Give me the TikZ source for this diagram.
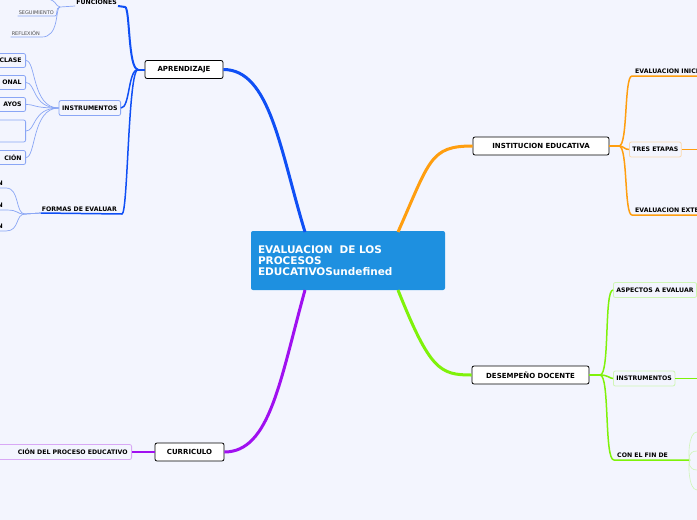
\documentclass[tikz,border=0pt]{standalone}
\usepackage{fontspec}
\setmainfont{DejaVu Sans}
\definecolor{bg}{HTML}{F3F5FE}
\definecolor{cblue}{HTML}{1E90E0}
\definecolor{lb}{HTML}{0F4FF5}
\definecolor{lbl}{HTML}{8AA6F5}
\definecolor{lor}{HTML}{FF9E0F}
\definecolor{lorl}{HTML}{FBD9AE}
\definecolor{lgr}{HTML}{7FF20A}
\definecolor{lgrl}{HTML}{CFF6B5}
\definecolor{lpu}{HTML}{A010F0}
\definecolor{lpul}{HTML}{D8A8F5}
\begin{document}
\begin{tikzpicture}[x=1pt,y=-1pt,
  main/.style={draw=black,fill=white,rounded corners=2pt,thick,font=\bfseries\fontsize{7}{8}\selectfont,minimum height=18,inner xsep=2},
  sub/.style={draw=#1,fill=bg,rounded corners=2pt,line width=0.8pt,font=\bfseries\fontsize{6.2}{7}\selectfont,minimum height=15,inner xsep=3},
  lab/.style={font=\bfseries\fontsize{6.2}{7}\selectfont,inner sep=1},
  tiny/.style={font=\fontsize{5}{6}\selectfont,text=black!70,inner sep=1}]
\clip (0,0) rectangle (697,520);
\fill[bg] (0,0) rectangle (697,520);
% central
\node[fill=cblue,rounded corners=2pt,minimum width=194,minimum height=59,text width=180,align=left,text=white,font=\bfseries\fontsize{10.5}{11}\selectfont] (c) at (348,260.5) {EVALUACION \ DE LOS\\PROCESOS\\EDUCATIVOSundefined};
\node[main,minimum width=78] (apr) at (184,69.5) {APRENDIZAJE};
\node[main,minimum width=136] (ins) at (541,146) {INSTITUCION EDUCATIVA};
\node[main,minimum width=117] (des) at (530.5,375) {DESEMPEÑO DOCENTE};
\node[main,minimum width=69] (cur) at (189.5,452) {CURRICULO};
\coordinate (c1) at (305,232); \coordinate (c2) at (398,232);
\coordinate (c3) at (398,290); \coordinate (c4) at (305,290);
\draw[lb,line width=3pt] (c1) .. controls (280,150) and (270,69.5) .. (apr.east);
\draw[lor,line width=3pt] (c2) .. controls (430,160) and (430,146) .. (ins.west);
\draw[lgr,line width=3pt] (c3) .. controls (430,370) and (440,375) .. (des.west);
\draw[lpu,line width=3pt] (c4) .. controls (280,380) and (270,452) .. (cur.east);
% APRENDIZAJE branch
\coordinate (ab) at (138,69.5);
\draw[lb,line width=2pt] (apr.west) -- (ab);
\node[lab,anchor=south east] (fun) at (118,6) {FUNCIONES};
\node[sub=lbl,anchor=east] (inst) at (121,108) {INSTRUMENTOS};
\node[lab,anchor=south east] (for) at (118,213) {FORMAS DE EVALUAR};
\draw[lb,line width=2pt] (ab) .. controls (128,69.5) and (130,7) .. (125,7) -- (fun.south east);
\draw[lb,line width=1.5pt] (ab) .. controls (128,69.5) and (130,108) .. (inst.east);
\draw[lb,line width=1.5pt] (ab) .. controls (128,69.5) and (128,214) .. (122,214) -- (for.south west);
% funciones children
\node[tiny,anchor=south east] (seg) at (55,16) {SEGUIMIENTO};
\node[tiny,anchor=south east] (ref) at (41,37) {REFLEXIÓN};
\draw[lbl,line width=0.7pt] (fun.south west) -- (60,7) .. controls (55,7) and (58,17) .. (seg.south east) -- (seg.south west);
\draw[lbl,line width=0.7pt] (60,7) .. controls (55,7) and (60,38) .. (ref.south east) -- (ref.south west);
\draw[lbl,line width=0.7pt] (60,7) .. controls (55,7) and (58,-2) .. (40,-2);
% instrumentos children
\foreach \n/\y/\t/\h in {i1/60.5/CLASE/14,i2/82.5/ONAL/14,i3/104.5/AYOS/14,i4/131/{}/22,i5/157.5/CIÓN/14}{
  \node[sub=lbl,anchor=east,minimum height=\h,minimum width=60,align=right,text width=52] (\n) at (26,\y) {\t};
  \draw[lbl,line width=0.7pt] (inst.west) .. controls (32,108) and (36,\y) .. (\n.east);
}
% formas children
\foreach \y in {186,208,229}{
  \node[lab,anchor=south east] at (4,\y+1) {N};
  \draw[lbl,line width=0.7pt] (for.south west) -- (25,214) .. controls (15,214) and (20,\y+2) .. (6,\y+2) -- (0,\y+2);
}
% INSTITUCION branch
\coordinate (ob) at (619,146);
\draw[lor,line width=2pt] (ins.east) -- (ob);
\node[lab,anchor=south west] (ei) at (634,75) {EVALUACION INICIAL};
\node[sub=lorl,anchor=west] (te) at (629,149.5) {TRES ETAPAS};
\node[lab,anchor=south west] (ee) at (634,214) {EVALUACION EXTERNA};
\draw[lor,line width=1.5pt] (ob) .. controls (628,146) and (624,76) .. (632,76) -- (697,76);
\draw[lor,line width=1.5pt] (ob) .. controls (624,146) and (624,149.5) .. (te.west);
\draw[lor,line width=1.5pt] (ob) .. controls (628,146) and (624,215) .. (632,215) -- (697,215);
\draw[lor,line width=1.5pt] (te.east) -- (697,149.5);
% DESEMPEÑO branch
\coordinate (gb) at (600,375);
\draw[lgr,line width=2pt] (des.east) -- (gb);
\node[sub=lgrl,anchor=west] (asp) at (613,290) {ASPECTOS A EVALUAR};
\node[sub=lgrl,anchor=west] (gi) at (613,378.5) {INSTRUMENTOS};
\node[lab,anchor=south west] (cf) at (616,459) {CON EL FIN DE};
\draw[lgr,line width=1.5pt] (gb) .. controls (610,375) and (604,290) .. (asp.west);
\draw[lgr,line width=1.5pt] (gb) .. controls (608,375) and (610,378.5) .. (gi.west);
\draw[lgr,line width=1.5pt] (gb) .. controls (610,375) and (604,460) .. (614,460) -- (690,460);
\draw[lgr,line width=1.5pt] (gi.east) -- (697,378.5);
\foreach \y in {432,451,470,490}{
  \draw[lgrl,line width=0.6pt] (690,460) .. controls (688,460) and (688,\y) .. (697,\y);
}
% CURRICULO branch
\node[sub=lpul,anchor=east,minimum width=150,align=right,text width=142] (cp) at (132,452) {CIÓN DEL PROCESO EDUCATIVO};
\draw[lpu,line width=1.5pt] (cur.west) -- (cp.east);
\end{tikzpicture}
\end{document}
